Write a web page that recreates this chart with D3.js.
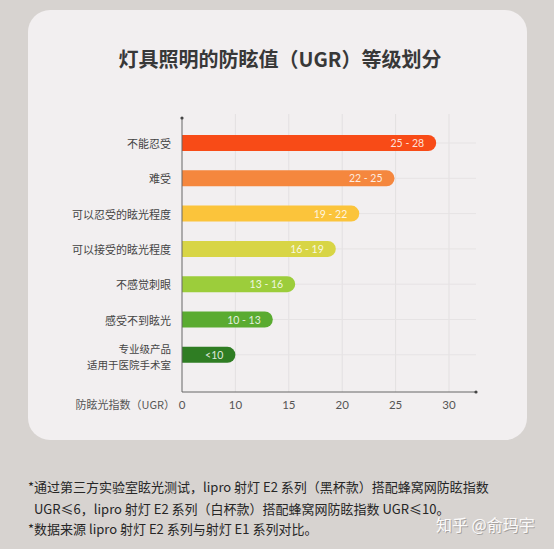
<!DOCTYPE html>
<html>
<head>
  <meta charset="utf-8">
  <title>UGR</title>
  <script src="https://cdn.jsdelivr.net/npm/d3@7"></script>
  <style>
    body { margin: 0; background: #d7d3d0; }
    svg { display: block; }
    text { font-family: "Noto Sans CJK SC", "Noto Sans", sans-serif; }
    .num { font-family: Lato, "Noto Sans", sans-serif; }
  </style>
</head>
<body>
<svg width="554" height="549"></svg>
<script>

var categories = ["不能忍受", "难受", "可以忍受的眩光程度", "可以接受的眩光程度", "不感觉刺眼", "感受不到眩光", "专业级产品\n适用于医院手术室"];
var barEnds = [28.8, 24.9, 21.6, 19.4, 15.6, 13.5, 10];
var rangeLabels = ["25 - 28", "22 - 25", "19 - 22", "16 - 19", "13 - 16", "10 - 13", "<10"];
var colors = ["#f84b17", "#f5873e", "#fbc43b", "#d8d545", "#9ccd3b", "#5aab30", "#2f7d23"];
var xTicks = [0, 10, 15, 20, 25, 30];

var svg = d3.select("svg");

// card
svg.append("rect")
    .attr("x", 28).attr("y", 10)
    .attr("width", 499).attr("height", 430)
    .attr("rx", 22)
    .attr("fill", "#f2eff0");

svg.append("text")
    .attr("x", 280).attr("y", 58)
    .attr("text-anchor", "middle")
    .attr("dominant-baseline", "central")
    .attr("font-size", 20).attr("font-weight", "bold")
    .attr("fill", "#383838")
    .text("灯具照明的防眩值（UGR）等级划分");

var x0 = 182, step = 53.4, axisY = 392, axisEnd = 476;

// ticks are evenly spaced even though 0 -> 10 is a bigger jump
var x = d3.scaleLinear()
    .domain(xTicks)
    .range(xTicks.map(function(d, i) { return x0 + i * step; }));

var y = d3.scaleBand()
    .domain(categories)
    .range([125.35, 125.35 + 7 * 35.3])
    .paddingInner(0.547)
    .paddingOuter(0.2735);

var bh = y.bandwidth();

// grid
svg.append("g").selectAll("line")
  .data(xTicks.slice(1))
  .enter().append("line")
    .attr("x1", function(d) { return x(d); })
    .attr("x2", function(d) { return x(d); })
    .attr("y1", 114).attr("y2", axisY)
    .attr("stroke", "#e3e0e1").attr("stroke-width", 1);

svg.append("g").selectAll("line")
  .data(categories)
  .enter().append("line")
    .attr("x1", x0).attr("x2", axisEnd)
    .attr("y1", function(d) { return y(d) + bh / 2; })
    .attr("y2", function(d) { return y(d) + bh / 2; })
    .attr("stroke", "#e6e3e4").attr("stroke-width", 1);

// bars, square on the left, round on the right
svg.append("g").selectAll("path")
  .data(categories)
  .enter().append("path")
    .attr("fill", function(d, i) { return colors[i]; })
    .attr("d", function(d, i) {
      var r = bh / 2, top = y(d), end = x(barEnds[i]);
      return "M" + x(0) + "," + top + "H" + (end - r) +
        "A" + r + "," + r + " 0 0 1 " + (end - r) + "," + (top + bh) +
        "H" + x(0) + "Z";
    });

svg.append("g").selectAll("text")
  .data(categories)
  .enter().append("text")
    .attr("class", "num")
    .attr("x", function(d, i) { return x(barEnds[i]) - 12; })
    .attr("y", function(d) { return y(d) + bh / 2; })
    .attr("text-anchor", "end")
    .attr("dominant-baseline", "central")
    .attr("font-size", 10.5)
    .attr("fill", "#fff").attr("fill-opacity", 0.85)
    .text(function(d, i) { return rangeLabels[i]; });

// category labels, one text per line
var catLines = [];
categories.forEach(function(d) {
  var lines = d.split("\n");
  lines.forEach(function(l, k) {
    var off = lines.length == 1 ? 0 : (k == 0 ? -6 : 9.5);
    catLines.push({ cat: d, text: l, off: off, size: lines.length == 1 ? 11 : 10.5 });
  });
});

svg.append("g").selectAll("text")
  .data(catLines)
  .enter().append("text")
    .attr("x", 171)
    .attr("y", function(d) { return y(d.cat) + bh / 2 + d.off; })
    .attr("text-anchor", "end")
    .attr("dominant-baseline", "central")
    .attr("font-size", function(d) { return d.size; })
    .attr("fill", "#444")
    .text(function(d) { return d.text; });

// axes
svg.append("line")
    .attr("x1", x0).attr("x2", x0)
    .attr("y1", 118).attr("y2", axisY)
    .attr("stroke", "#666").attr("stroke-width", 1);
svg.append("line")
    .attr("x1", x0).attr("x2", axisEnd)
    .attr("y1", axisY).attr("y2", axisY)
    .attr("stroke", "#666").attr("stroke-width", 1);
svg.append("circle").attr("cx", x0).attr("cy", 118).attr("r", 1.6).attr("fill", "#444");
svg.append("circle").attr("cx", axisEnd).attr("cy", axisY).attr("r", 1.6).attr("fill", "#444");

svg.append("g").selectAll("text")
  .data(xTicks)
  .enter().append("text")
    .attr("class", "num")
    .attr("x", function(d) { return x(d); })
    .attr("y", 404)
    .attr("text-anchor", "middle")
    .attr("dominant-baseline", "central")
    .attr("font-size", 11.5)
    .attr("fill", "#555")
    .text(function(d) { return d; });

svg.append("text")
    .attr("x", 175).attr("y", 404)
    .attr("text-anchor", "end")
    .attr("dominant-baseline", "central")
    .attr("font-size", 11)
    .attr("fill", "#555")
    .text("防眩光指数（UGR）");

// footnotes
var notes = [
  ["*通过第三方实验室眩光测试，lipro 射灯 E2 系列（黑杯款）搭配蜂窝网防眩指数", 28, 486],
  ["UGR≤6，lipro 射灯 E2 系列（白杯款）搭配蜂窝网防眩指数 UGR≤10。", 34, 508],
  ["*数据来源 lipro 射灯 E2 系列与射灯 E1 系列对比。", 28, 528]
];
svg.append("g").selectAll("text")
  .data(notes)
  .enter().append("text")
    .attr("x", function(d) { return d[1]; })
    .attr("y", function(d) { return d[2]; })
    .attr("dominant-baseline", "central")
    .attr("font-size", 13)
    .attr("fill", "#262626")
    .text(function(d) { return d[0]; });

// watermark with a soft shadow
svg.append("text")
    .attr("x", 437).attr("y", 525)
    .attr("dominant-baseline", "central")
    .attr("font-size", 16)
    .attr("fill", "#8f8b89").attr("fill-opacity", 0.7)
    .text("知乎 @俞玛宇");
svg.append("text")
    .attr("x", 436).attr("y", 524)
    .attr("dominant-baseline", "central")
    .attr("font-size", 16)
    .attr("fill", "#fbfafa")
    .text("知乎 @俞玛宇");

</script>
</body>
</html>
